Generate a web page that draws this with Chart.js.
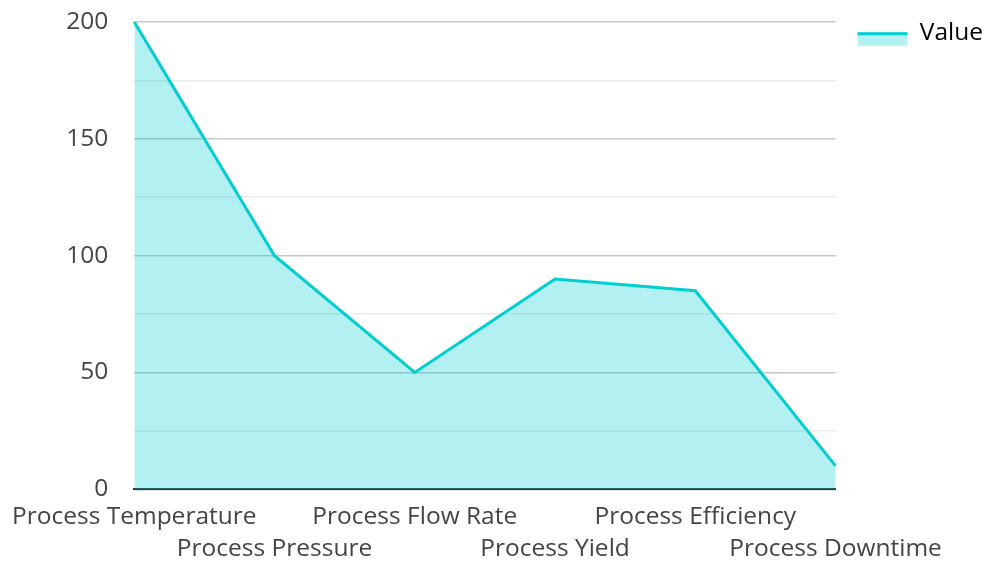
<!DOCTYPE html>
<html>
<head>
<meta charset="utf-8">
<script src="https://cdn.jsdelivr.net/npm/chart.js@4/dist/chart.umd.min.js"></script>
<style>
  html, body { margin: 0; padding: 0; background: #fff; }
  #wrap { width: 983px; height: 561px; }
</style>
</head>
<body>
<div id="wrap"><canvas id="chart"></canvas></div>
<script>
// data
const categories = [
  "Process Temperature", "Process Pressure", "Process Flow Rate",
  "Process Yield", "Process Efficiency", "Process Downtime"
];
const values = [200, 100, 50, 90, 85, 10];
const yTicks = [0, 50, 100, 150, 200];

const lineColor = "#00CED1";
const fillColor = "rgba(0, 206, 209, 0.3)";

// odd labels go on a second row
const xLabels = categories.map((c, i) => i % 2 ? ["", c] : c);

Chart.defaults.font.family = "'Open Sans', sans-serif";
Chart.defaults.font.size = 24.5;

// nudge the legend and draw its swatch: light fill with a thick line on top
const legendTweak = {
  id: "legendTweak",
  afterLayout(chart) {
    const lg = chart.legend;
    if (!lg) return;
    lg.left += 10; lg.right += 10;
    lg.top += 7; lg.bottom += 7;
  },
  afterDraw(chart) {
    const lg = chart.legend;
    if (!lg) return;
    const pad = lg.options.labels.padding;
    const fs = Chart.defaults.font.size;
    const x = lg.left + pad;
    const y = lg.top + pad + fs / 2 - 1;
    const ctx = chart.ctx;
    ctx.save();
    ctx.fillStyle = fillColor;
    ctx.fillRect(x, y, 50, 13.5);
    ctx.fillStyle = lineColor;
    ctx.fillRect(x, y, 50, 3);
    ctx.restore();
  }
};

new Chart(document.getElementById("chart"), {
  type: "line",
  data: {
    labels: xLabels,
    datasets: [{
      label: "Value",
      data: values,
      borderColor: lineColor,
      backgroundColor: fillColor,
      borderWidth: 3,
      fill: "origin",
      pointRadius: 0,
      tension: 0
    }]
  },
  options: {
    responsive: true,
    maintainAspectRatio: false,
    animation: false,
    layout: { padding: { top: 2, right: 0, bottom: -16, left: 0 } },
    plugins: {
      tooltip: { enabled: false },
      legend: {
        position: "right",
        align: "start",
        labels: {
          color: "#333",
          boxWidth: 50,
          boxHeight: 14,
          padding: 12,
          generateLabels(chart) {
            const ds = chart.data.datasets[0];
            return [{
              text: ds.label,
              fillStyle: "rgba(0,0,0,0)",
              strokeStyle: "rgba(0,0,0,0)",
              lineWidth: 0,
              datasetIndex: 0
            }];
          }
        }
      }
    },
    scales: {
      x: {
        offset: false,
        grid: { display: false, drawTicks: false },
        border: { display: true, color: "#333", width: 2 },
        ticks: {
          color: "#444",
          maxRotation: 0,
          autoSkip: false,
          padding: 12,
          font: { lineHeight: 1.3 }
        }
      },
      y: {
        min: 0,
        max: 200,
        afterBuildTicks(axis) {
          const t = [];
          for (let v = 0; v <= 200; v += 25) t.push({ value: v });
          axis.ticks = t;
        },
        // tick padding also pads the top of the axis, pull it back
        afterFit(axis) { axis.paddingTop = 22; },
        grid: {
          drawTicks: false,
          color: ctx => (ctx.tick && yTicks.includes(ctx.tick.value)) ? "#c8c8c8" : "#ebebeb",
          lineWidth: 1.5
        },
        border: { display: false },
        ticks: {
          color: "#444",
          padding: 26,
          callback: v => yTicks.includes(v) ? v : ""
        }
      }
    }
  },
  plugins: [legendTweak]
});
</script>
</body>
</html>
